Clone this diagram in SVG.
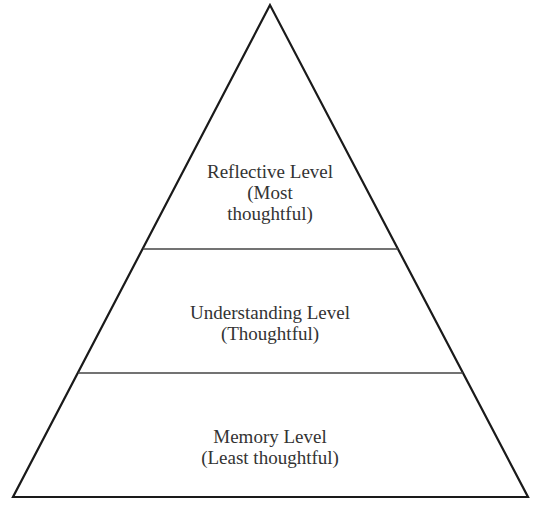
<svg xmlns="http://www.w3.org/2000/svg" width="542" height="516" viewBox="0 0 542 516">
<style>
.edge{stroke:#1a1a1a;stroke-width:2.2;fill:none;stroke-linejoin:miter}
.div{stroke:#444;stroke-width:1.6;fill:none}
.t{font-family:"Liberation Serif","Times New Roman",serif;font-size:19px;fill:#333;text-anchor:middle}
</style>
<rect width="542" height="516" fill="#fff"/>
<g id="connectors">
<polygon class="edge" points="270,5 13,497 528,497"/>
<line class="div" x1="143" y1="249" x2="398" y2="249"/>
<line class="div" x1="78" y1="373" x2="463" y2="373"/>
</g>
<g id="reflective">
<text class="t" x="270" y="178">Reflective Level</text>
<text class="t" x="270" y="199">(Most</text>
<text class="t" x="270" y="220">thoughtful)</text>
</g>
<g id="understanding">
<text class="t" x="270" y="319">Understanding Level</text>
<text class="t" x="270" y="340">(Thoughtful)</text>
</g>
<g id="memory">
<text class="t" x="270" y="443">Memory Level</text>
<text class="t" x="270" y="464">(Least thoughtful)</text>
</g>
</svg>
